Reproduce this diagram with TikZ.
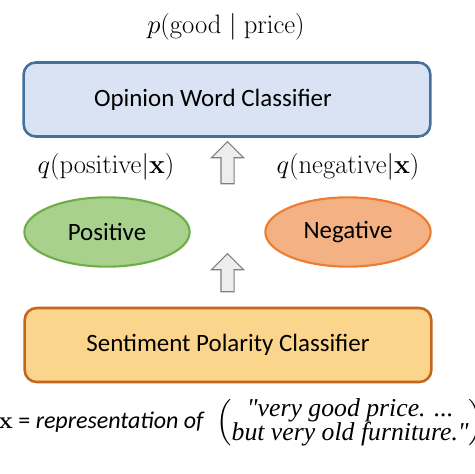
\RequirePackage{fix-cm}
\documentclass[tikz,border=0pt]{standalone}
\usepackage{amssymb,amsmath}
\usepackage[no-math]{fontspec}
\setmainfont{Carlito}
\newfontfamily\quotefont{Liberation Serif}
\usepackage{xcolor}
\usepackage{pgf,tikz}
\usetikzlibrary{shapes.geometric,shapes.arrows}

\definecolor{owcfill}{RGB}{218,227,243}
\definecolor{owcborder}{RGB}{65,113,156}
\definecolor{posfill}{RGB}{169,209,142}
\definecolor{posborder}{RGB}{112,173,71}
\definecolor{negfill}{RGB}{244,177,131}
\definecolor{negborder}{RGB}{237,125,49}
\definecolor{spcfill}{RGB}{252,213,140}
\definecolor{spcborder}{RGB}{197,102,27}
\definecolor{arrowfill}{RGB}{237,237,237}
\definecolor{arrowborder}{RGB}{127,127,127}

\begin{document}
\begin{tikzpicture}[x=0.75pt,y=0.75pt,yscale=-1,xscale=1,
  classbox/.style={draw, line width=1.9pt, rounded corners=9pt, minimum width=305pt, minimum height=55.5pt, inner sep=0pt},
  polarity/.style={ellipse, draw, line width=1.6pt, minimum width=124pt, minimum height=52pt, inner sep=0pt},
  uparrow/.style={single arrow, draw=arrowborder, fill=arrowfill, line width=0.8pt, rotate=90, inner sep=4.5pt, single arrow head extend=7.1pt},
  boxfont/.style={font=\fontsize{18.7}{22}\selectfont},
  mathlabel/.style={inner sep=0.75pt, font=\fontsize{20}{24}\selectfont}
]
\useasboundingbox (0,0) rectangle (474,474);

%Shape: Rectangle [id:owc] 
\draw (227,99.5) node (owc) [classbox, draw=owcborder, fill=owcfill] {};
%Shape: Rectangle [id:spc] 
\draw (228,345) node (spc) [classbox, draw=spcborder, fill=spcfill, boxfont] {Sentiment Polarity Classifier};
%Shape: Ellipse [id:pos] 
\draw (107,232) node (pos) [polarity, draw=posborder, fill=posfill, boxfont] {Positive};
%Shape: Ellipse [id:neg] 
\draw (348,232) node (neg) [polarity, draw=negborder, fill=negfill, boxfont] {Negative};
%Shape: Up Arrow [id:arrowtop] 
\draw (227.5,166) node (arrowtop) [uparrow, minimum height=31.5pt] {};
%Shape: Up Arrow [id:arrowbottom] 
\draw (227.5,276) node (arrowbottom) [uparrow, minimum height=28.5pt] {};

% Text Node
\draw (213,100) node (owclabel) [inner sep=0.75pt, boxfont] {Opinion Word Classifier};
% Text Node
\draw (226,27) node (title) [mathlabel] {$p(\mathrm{good} \mid \mathrm{price})$};
% Text Node
\draw (106,167) node (qpos) [mathlabel] {$q(\mathrm{positive}|\mathbf{x})$};
% Text Node
\draw (348,167) node (qneg) [mathlabel] {$q(\mathrm{negative}|\mathbf{x})$};
% Text Node
\draw (206,422) node (xdef) [anchor=east, inner sep=0.75pt, font=\fontsize{18}{22}\selectfont] {$\mathbf{x}$ = \textit{representation of}};
% Text Node
\draw (216,423) node (review) [anchor=west, inner sep=0pt, font=\fontsize{19.3}{17}\selectfont] {$\left(\begin{tabular}{@{}c@{}}\quotefont\itshape "very good price. ...\\ \quotefont\itshape but very old furniture."\end{tabular}\right)$};

\end{tikzpicture}
\end{document}
